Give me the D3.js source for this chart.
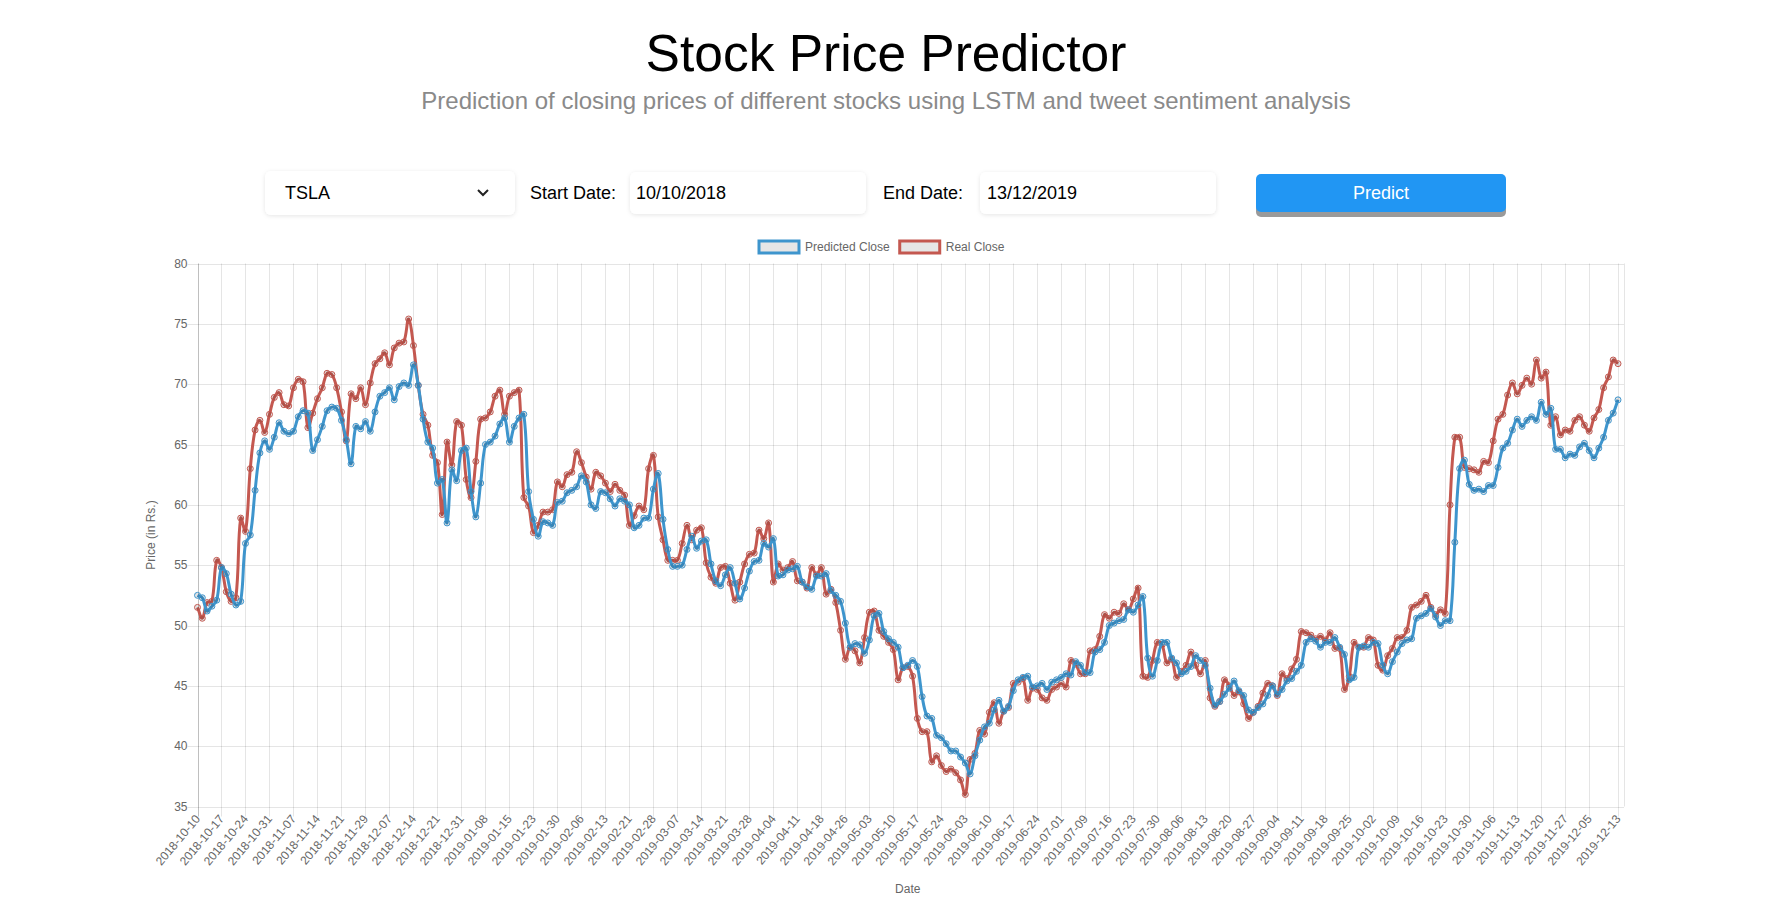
<!DOCTYPE html>
<html><head><meta charset="utf-8">
<script src="https://cdn.jsdelivr.net/npm/d3@7"></script>
<style>
html,body{margin:0;padding:0;background:#fff;overflow:hidden}
svg{display:block;font-family:"Liberation Sans",Arial,Helvetica,sans-serif}
</style></head><body>
<svg id="c" width="1787" height="910"></svg>
<script>
// ---------------- data ----------------
const startDate = "2018-10-10", endDate = "2019-12-13";
const marketHolidays = ["2018-11-22","2018-12-05","2018-12-25","2019-01-01","2019-01-21","2019-02-18",
  "2019-04-19","2019-05-27","2019-07-04","2019-09-02","2019-11-28"];
const xTickLabels = ["2018-10-10","2018-10-17","2018-10-24","2018-10-31","2018-11-07","2018-11-14","2018-11-21","2018-11-29","2018-12-07","2018-12-14","2018-12-21","2018-12-31","2019-01-08","2019-01-15","2019-01-23","2019-01-30","2019-02-06","2019-02-13","2019-02-21","2019-02-28","2019-03-07","2019-03-14","2019-03-21","2019-03-28","2019-04-04","2019-04-11","2019-04-18","2019-04-26","2019-05-03","2019-05-10","2019-05-17","2019-05-24","2019-06-03","2019-06-10","2019-06-17","2019-06-24","2019-07-01","2019-07-09","2019-07-16","2019-07-23","2019-07-30","2019-08-06","2019-08-13","2019-08-20","2019-08-27","2019-09-04","2019-09-11","2019-09-18","2019-09-25","2019-10-02","2019-10-09","2019-10-16","2019-10-23","2019-10-30","2019-11-06","2019-11-13","2019-11-20","2019-11-27","2019-12-05","2019-12-13"];
const yTicks = [35,40,45,50,55,60,65,70,75,80];
const seriesNames = ["Predicted Close","Real Close"];
const predictedClose = [
52.5,52.3,51.2,51.6,52.1,54.8,54.3,52.6,51.7,52.0,
56.8,57.5,61.2,64.3,65.3,64.6,65.6,66.8,66.1,65.9,
66.1,67.3,67.8,67.6,64.5,65.4,66.5,67.8,68.1,68.0,
67.0,65.4,63.4,66.5,66.3,66.9,66.1,67.7,69.0,69.3,
69.7,68.7,69.8,70.1,69.9,71.6,69.9,67.1,65.2,64.7,
61.8,62.1,58.5,62.9,62.0,64.5,64.7,61.1,59.0,61.8,
65.0,65.2,65.7,66.7,67.2,65.2,66.5,67.2,67.5,61.1,
58.8,57.4,58.6,58.5,58.3,60.2,60.3,61.0,61.2,61.5,
62.4,61.9,60.0,59.7,61.1,61.0,60.5,59.9,60.5,60.3,
60.0,58.1,58.3,58.9,58.9,61.3,62.6,58.8,56.3,54.9,
54.9,55.0,56.3,57.4,56.4,57.0,57.1,55.1,53.7,53.3,
54.2,54.8,53.5,52.2,53.1,54.5,55.3,55.4,56.8,56.5,
57.2,54.1,54.2,54.6,54.7,54.9,53.6,53.2,53.0,54.1,
54.1,54.3,52.9,52.5,52.0,50.2,48.2,48.5,48.4,47.7,
48.8,50.8,51.0,49.5,48.9,48.6,48.2,46.5,46.7,47.1,
46.6,44.1,42.5,42.3,40.9,40.7,40.2,39.6,39.6,39.1,
38.6,37.7,39.2,40.5,41.6,41.9,43.0,43.8,42.9,43.3,
44.6,45.5,45.7,45.8,44.9,45.0,45.2,44.7,45.3,45.5,
45.7,46.0,45.9,47.0,46.7,46.1,46.1,47.8,48.0,48.6,
50.0,50.2,50.4,50.5,51.3,51.1,51.7,52.4,47.3,45.8,
47.1,48.6,48.6,47.3,46.9,46.0,46.2,46.6,47.5,47.1,
46.7,44.8,43.4,43.7,44.3,44.8,45.4,44.6,44.2,43.0,
42.8,43.2,43.5,44.2,45.0,44.3,44.7,45.4,45.6,46.2,
46.7,48.6,48.9,48.7,48.2,48.6,48.6,49.0,48.2,47.6,
45.5,45.7,48.2,48.3,48.2,48.6,48.5,46.7,46.0,47.0,
47.8,48.5,48.8,48.9,50.6,50.8,51.0,51.4,50.7,50.0,
50.4,50.4,56.9,63.0,63.7,61.7,61.2,61.3,61.1,61.6,
61.6,63.1,64.7,65.1,66.2,67.1,66.5,67.0,67.3,67.0,
68.5,67.5,68.0,64.6,64.6,63.9,64.2,64.1,64.8,65.1,
64.5,63.9,64.7,65.6,67.0,67.6,68.7];
const realClose = [
51.5,50.6,51.9,52.0,55.4,54.8,52.8,52.0,52.3,58.9,
57.8,63.0,66.2,67.0,66.0,67.5,68.9,69.3,68.3,68.2,
69.7,70.4,70.2,66.4,67.6,68.8,69.7,70.9,70.8,69.7,
67.7,65.3,69.2,68.8,69.7,68.3,70.1,71.7,72.1,72.6,
71.6,73.0,73.4,73.5,75.4,73.2,69.9,67.5,66.6,64.1,
63.5,59.2,65.2,63.3,66.9,66.6,62.1,60.6,63.6,67.1,
67.2,67.7,69.0,69.5,67.5,69.0,69.3,69.5,60.6,59.9,
57.7,58.3,59.4,59.4,59.6,61.9,61.5,62.5,62.7,64.4,
63.5,62.3,61.3,62.7,62.4,61.8,61.1,61.7,61.2,60.8,
58.3,59.1,59.9,59.6,63.0,64.1,59.0,57.1,55.4,55.4,
55.4,56.8,58.3,57.1,57.9,58.1,55.2,54.0,53.5,54.8,
54.9,53.5,52.1,53.6,55.1,55.9,56.0,57.9,57.2,58.5,
53.6,55.1,54.6,54.8,55.3,53.7,53.6,53.1,54.8,54.2,
54.8,52.6,53.0,51.9,49.6,47.2,48.2,47.9,46.9,49.0,
51.1,51.2,49.6,49.1,48.6,48.0,45.5,46.5,46.6,45.8,
42.3,41.2,41.2,38.7,39.2,38.4,37.9,38.1,37.8,37.2,
36.0,38.9,39.4,41.3,41.0,42.8,43.6,41.9,42.9,43.2,
45.2,45.3,45.6,43.8,44.8,44.7,44.0,43.8,44.7,44.9,
45.2,44.9,47.1,46.8,46.0,46.0,47.9,48.0,49.1,50.9,
50.6,51.1,51.0,51.8,51.3,52.2,53.1,45.8,45.7,47.1,
48.6,48.4,46.9,47.2,45.7,46.2,46.7,47.8,46.7,46.0,
47.1,44.0,43.3,43.7,45.5,45.0,44.2,44.5,43.5,42.3,
42.8,43.3,44.4,45.2,45.0,44.2,46.0,45.6,46.4,47.2,
49.5,49.4,49.2,48.9,49.1,48.8,49.4,48.1,48.1,44.7,
45.8,48.6,48.2,48.2,49.0,48.8,46.7,46.3,47.5,48.1,
49.0,49.0,49.6,51.5,51.7,52.0,52.5,51.5,50.9,51.3,
51.0,60.0,65.6,65.6,63.1,63.0,62.9,62.7,63.6,63.5,
65.3,67.1,67.5,69.1,70.1,69.2,69.9,70.5,70.0,72.0,
70.5,71.0,66.6,67.3,65.8,66.2,66.1,67.0,67.3,66.6,
66.1,67.2,67.9,69.7,70.6,72.0,71.7];

(function(){
// trading-day categories (weekdays minus market holidays)
const fmt = d3.utcFormat("%Y-%m-%d");
const dates = d3.utcDays(new Date(startDate+"T00:00Z"), d3.utcDay.offset(new Date(endDate+"T00:00Z"),1))
  .filter(d => d.getUTCDay() !== 0 && d.getUTCDay() !== 6)
  .map(fmt).filter(s => !marketHolidays.includes(s));

// ---------------- layout ----------------
const svg = d3.select("#c");
svg.append("rect").attr("width",1787).attr("height",910).attr("fill","#fff");
const defs = svg.append("defs");
const f = defs.append("filter").attr("id","sh").attr("x","-10%").attr("y","-30%").attr("width","120%").attr("height","160%");
f.append("feDropShadow").attr("dx",0).attr("dy",1).attr("stdDeviation",2.2).attr("flood-color","#000").attr("flood-opacity",0.10);

svg.append("text").attr("x",886).attr("y",71).attr("text-anchor","middle")
  .attr("font-size",51.5).attr("fill","#000").text("Stock Price Predictor");
svg.append("text").attr("x",886).attr("y",109).attr("text-anchor","middle")
  .attr("font-size",24).attr("fill","#8a8a8a")
  .text("Prediction of closing prices of different stocks using LSTM and tweet sentiment analysis");

// controls
const ctl = svg.append("g").attr("font-size",18).attr("fill","#000");
ctl.append("rect").attr("x",265).attr("y",171).attr("width",250).attr("height",44).attr("rx",6)
  .attr("fill","#fff").attr("filter","url(#sh)");
ctl.append("text").attr("x",285).attr("y",199).text("TSLA");
ctl.append("path").attr("d","M478,190 L483,195 L488,190").attr("fill","none").attr("stroke","#222").attr("stroke-width",2);
ctl.append("text").attr("x",530).attr("y",199).text("Start Date:");
ctl.append("rect").attr("x",630).attr("y",172).attr("width",236).attr("height",42).attr("rx",6)
  .attr("fill","#fff").attr("filter","url(#sh)");
ctl.append("text").attr("x",636).attr("y",199).text("10/10/2018");
ctl.append("text").attr("x",883).attr("y",199).text("End Date:");
ctl.append("rect").attr("x",980).attr("y",172).attr("width",236).attr("height",42).attr("rx",6)
  .attr("fill","#fff").attr("filter","url(#sh)");
ctl.append("text").attr("x",987).attr("y",199).text("13/12/2019");
ctl.append("rect").attr("x",1256).attr("y",178).attr("width",250).attr("height",39).attr("rx",5).attr("fill","#9a9a9a");
ctl.append("rect").attr("x",1256).attr("y",174).attr("width",250).attr("height",38).attr("rx",5).attr("fill","#2196f3");
ctl.append("text").attr("x",1381).attr("y",199).attr("text-anchor","middle").attr("fill","#fff").text("Predict");

// ---------------- chart ----------------
const pL = 197.5, pR = 1618, pEdge = 1624, pT = 263.5, pB = 806.5;
const x = d3.scalePoint().domain(dates).range([pL, pR]);
const y = d3.scaleLinear().domain([35, 80]).range([pB, pT]);
const colors = {"Predicted Close":"#3e95cd","Real Close":"#c45850"};
const grid = "rgba(0,0,0,0.1)";

const g = svg.append("g").attr("font-size",12).attr("fill","#666");
yTicks.forEach(v => {
  g.append("line").attr("x1",pL-10).attr("x2",pEdge).attr("y1",Math.round(y(v))+0.5).attr("y2",Math.round(y(v))+0.5)
    .attr("stroke",grid).attr("stroke-width",1);
  g.append("text").attr("x",pL-10).attr("y",y(v)).attr("dy","0.35em").attr("text-anchor","end").text(v);
});
xTickLabels.forEach((lab,i) => {
  const xp = Math.round(x(lab))+0.5;
  g.append("line").attr("x1",xp).attr("x2",xp).attr("y1",pT).attr("y2",pB+10)
    .attr("stroke", i===0 ? "rgba(0,0,0,0.25)" : grid).attr("stroke-width",1);
  g.append("text").attr("transform",`translate(${x(lab)},${pB+10}) rotate(-50)`)
    .attr("text-anchor","end").attr("dy","0.35em").text(lab);
});
g.append("line").attr("x1",pEdge+0.5).attr("x2",pEdge+0.5).attr("y1",pT).attr("y2",pB).attr("stroke",grid);
g.append("text").attr("transform",`translate(${155},${(pT+pB)/2}) rotate(-90)`).attr("text-anchor","middle").text("Price (in Rs.)");
g.append("text").attr("x",(pL+pR)/2).attr("y",893).attr("text-anchor","middle").text("Date");

// Chart.js-like spline
function splinePath(vals){
  const pts = vals.map((v,i)=>({x:x(dates[i]), y:y(v)}));
  const t = 0.4;
  pts.forEach((p,i)=>{
    const prev = pts[Math.max(0,i-1)], next = pts[Math.min(pts.length-1,i+1)];
    const d01 = Math.hypot(p.x-prev.x,p.y-prev.y), d12 = Math.hypot(next.x-p.x,next.y-p.y);
    let s01 = d01/(d01+d12), s12 = d12/(d01+d12);
    if (isNaN(s01)) s01 = 0; if (isNaN(s12)) s12 = 0;
    const fa = t*s01, fb = t*s12;
    p.cpx = Math.max(pL,Math.min(pR,p.x - fa*(next.x-prev.x)));
    p.cpy = Math.max(pT,Math.min(pB,p.y - fa*(next.y-prev.y)));
    p.cnx = Math.max(pL,Math.min(pR,p.x + fb*(next.x-prev.x)));
    p.cny = Math.max(pT,Math.min(pB,p.y + fb*(next.y-prev.y)));
  });
  let d = `M${pts[0].x},${pts[0].y}`;
  for (let i=1;i<pts.length;i++){
    const a = pts[i-1], b = pts[i];
    d += `C${a.cnx},${a.cny},${b.cpx},${b.cpy},${b.x},${b.y}`;
  }
  return d;
}
const series = [{name:"Real Close", values:realClose},{name:"Predicted Close", values:predictedClose}];
series.forEach(s => {
  const c = colors[s.name];
  svg.append("path").attr("d",splinePath(s.values)).attr("fill","none").attr("stroke",c)
    .attr("stroke-width",3).attr("stroke-linejoin","round");
  svg.append("g").selectAll("circle").data(s.values).join("circle")
    .attr("cx",(v,i)=>x(dates[i])).attr("cy",v=>y(v)).attr("r",3)
    .attr("fill","rgba(0,0,0,0.1)").attr("stroke",c).attr("stroke-width",1);
});

// legend
const lg = svg.append("g").attr("font-size",12).attr("fill","#666");
let lx = 759;
seriesNames.forEach(n => {
  lg.append("rect").attr("x",lx).attr("y",241).attr("width",40).attr("height",12)
    .attr("fill","#e6e6e6").attr("stroke",colors[n]).attr("stroke-width",3);
  const tx = lg.append("text").attr("x",lx+46).attr("y",247).attr("dy","0.35em").text(n);
  lx += 46 + tx.node().getComputedTextLength() + 10;
});
})();
</script></body></html>
